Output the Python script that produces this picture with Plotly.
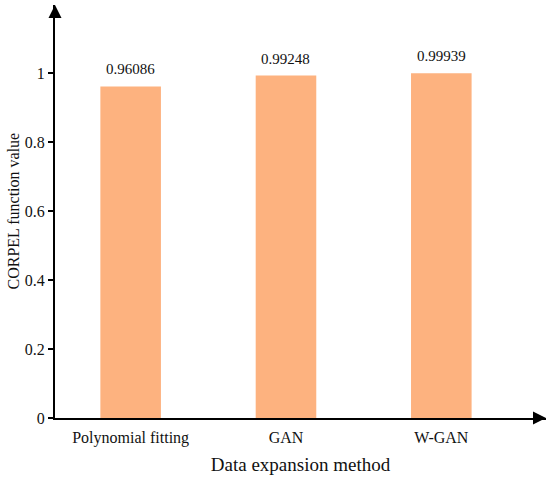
import plotly.graph_objects as go

# data
methods = ["Polynomial fitting", "GAN", "W-GAN"]
corpel = [0.96086, 0.99248, 0.99939]
labels = ["0.96086", "0.99248", "0.99939"]
y_ticks = [0, 0.2, 0.4, 0.6, 0.8, 1]

font_name = "Liberation Serif"
xs = list(range(len(methods)))

fig = go.Figure()
fig.add_trace(go.Bar(
    x=xs, y=corpel,
    marker=dict(color="#FDB27F", line=dict(width=0)),
    width=0.39,
))

# value labels above the bars
for xi, yi, lab in zip(xs, corpel, labels):
    fig.add_annotation(x=xi, y=yi, text=lab, showarrow=False,
                       yanchor="bottom", yshift=7,
                       font=dict(family=font_name, size=15, color="#111"))

fig.update_layout(
    width=550, height=478,
    plot_bgcolor="white", paper_bgcolor="white",
    margin=dict(l=55, r=4, t=5, b=60),
    font=dict(family=font_name, size=16, color="#111"),
    showlegend=False,
    xaxis=dict(
        range=[-0.487, 2.674], automargin=False,
        tickvals=xs, ticktext=methods,
        showline=True, linecolor="black", linewidth=2,
        ticks="", showgrid=False, zeroline=False, ticklabelstandoff=4,
        title=dict(text="Data expansion method", standoff=11),
    ),
    yaxis=dict(
        range=[0, 1.197], automargin=False,
        tickvals=y_ticks, ticktext=[f"{v:g}" for v in y_ticks],
        showline=True, linecolor="black", linewidth=2,
        ticks="outside", ticklen=5, tickwidth=2, tickcolor="black",
        showgrid=False, zeroline=False,
    ),
)

# y title as an annotation so it sits where the reference has it
fig.add_annotation(x=0, y=0.5, xref="paper", yref="paper", xshift=-42,
                   text="CORPEL function value", textangle=-90,
                   showarrow=False, xanchor="center", yanchor="middle",
                   font=dict(family=font_name, size=16, color="#111"))

# arrowheads at the ends of both axes
fig.add_annotation(x=0, y=1, xref="paper", yref="paper", ax=0, ay=14,
                   showarrow=True, arrowhead=2, arrowsize=1.3, arrowwidth=2,
                   arrowcolor="black", text=" ")
fig.add_annotation(x=1, y=0, xref="paper", yref="paper", ax=-14, ay=0,
                   showarrow=True, arrowhead=2, arrowsize=1.3, arrowwidth=2,
                   arrowcolor="black", text=" ")

# page body has a default margin; drop it so the figure sits at the corner
fig.write_html("out.html", config={"displayModeBar": False},
               post_script="document.body.style.margin='0';")
